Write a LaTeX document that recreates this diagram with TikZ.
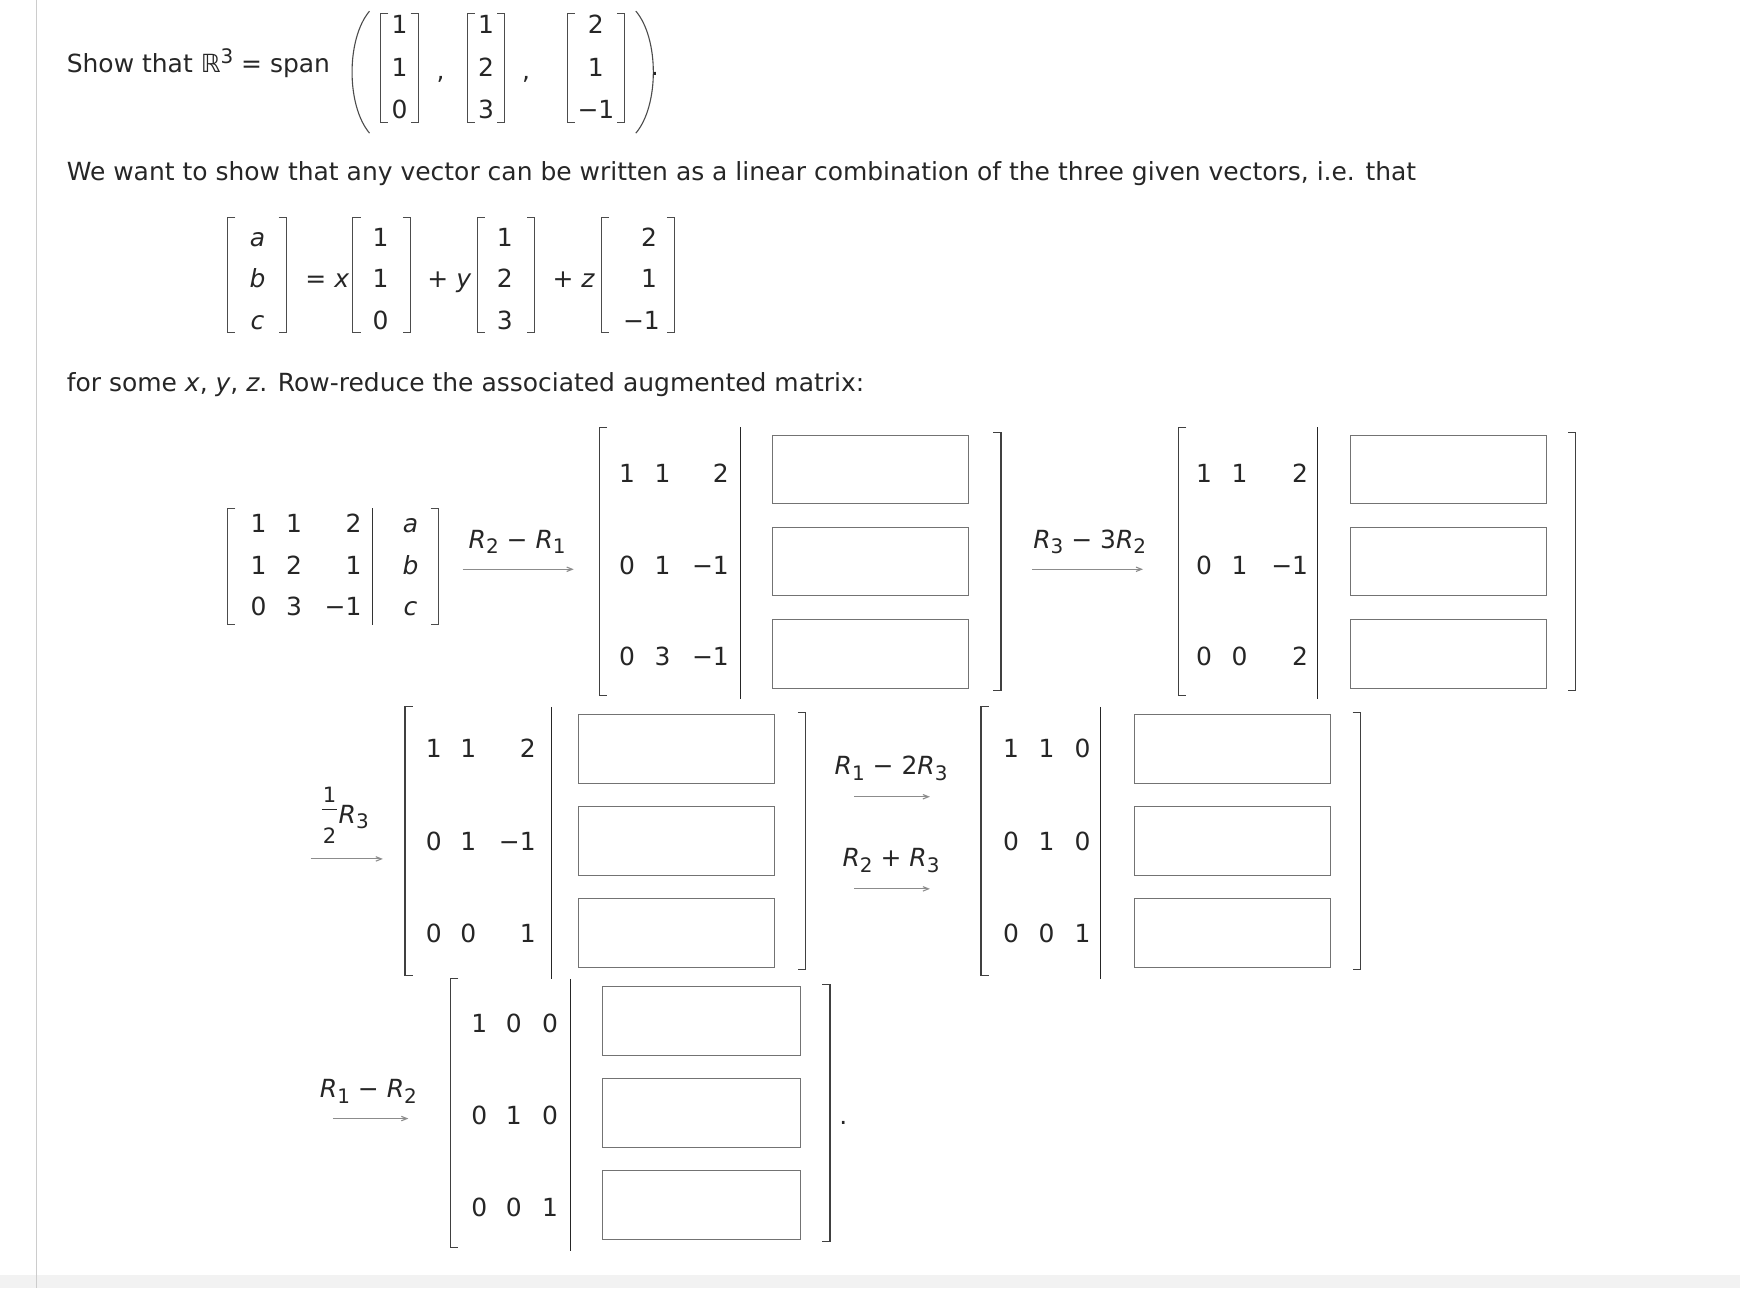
\documentclass[tikz,border=0pt]{standalone}
\usepackage{fontspec}
\setmainfont{DejaVu Sans}
\usetikzlibrary{arrows.meta}
\newcommand\sbs[1]{\raisebox{-5pt}{\fontsize{18}{18}\selectfont #1}}
\begin{document}
\begin{tikzpicture}[x=1pt,y=-1pt,font=\fontsize{22.5}{26}\selectfont,
  t/.style={inner sep=0pt,anchor=base,text=black!85},
  br/.style={draw=black!75,line width=1.1pt},
  sbr/.style={draw=black!70,line width=0.9pt},
  bx/.style={draw=black!55,line width=0.8pt},
  ar/.style={draw=black!45,line width=1pt,-{Straight Barb[length=5pt,width=4pt]}}]
\useasboundingbox (0,0) rectangle (1568,1161);
\fill[black!5] (0,1149) rectangle (1568,1161);
\draw[black!20,line width=1pt] (33,0)--(33,1161);
\newcommand\brk[5]{%
 \draw[#1] ({#2+7},#4)--(#2,#4)--(#2,#5)--({#2+7},#5);
 \draw[#1] ({#3-7},#4)--(#3,#4)--(#3,#5)--({#3-7},#5);}
% line 1
\node[t,anchor=base west] (s1) at (60,65) {Show that ℝ\raisebox{8pt}{\fontsize{18}{18}\selectfont 3} = span};
\draw[black!70,line width=1pt] (333,10) .. controls (312,35) and (312,95) .. (333,120);
\draw[black!70,line width=1pt] (573,10) .. controls (594,35) and (594,95) .. (573,120);
\brk{sbr}{343}{377}{12}{110}
\brk{sbr}{421}{455}{12}{110}
\brk{sbr}{511}{563}{12}{110}
\foreach \x/\a/\b/\c in {360/1/1/0,438/1/2/3,537/2/1/−1}{
 \node[t] at (\x,30) {\a}; \node[t] at (\x,69) {\b}; \node[t] at (\x,107) {\c};}
\node[t] at (397,72) {,};\node[t] at (474,72) {,};\node[t] at (590,68) {.};
\node[t,anchor=base west] (l2) at (60,163) {We want to show that any vector can be written as a linear combination of the three given vectors, i.e. that};
% equation
\brk{sbr}{205}{258}{196}{300}
\node[t] at (232,222) {\textit{a}};\node[t] at (232,259) {\textit{b}};\node[t] at (232,297) {\textit{c}};
\node[t] at (295,259) {= \textit{x}};
\brk{sbr}{318}{370}{196}{300}
\node[t] at (343,222) {1};\node[t] at (343,259) {1};\node[t] at (343,297) {0};
\node[t] at (405,259) {+ \textit{y}};
\brk{sbr}{430}{482}{196}{300}
\node[t] at (455,222) {1};\node[t] at (455,259) {2};\node[t] at (455,297) {3};
\node[t] at (517,259) {+ \textit{z}};
\brk{sbr}{542}{608}{196}{300}
\node[t] at (585,222) {2};\node[t] at (585,259) {1};\node[t] at (578,297) {−1};
\node[t,anchor=base west] (l3) at (60,353) {for some \textit{x}, \textit{y}, \textit{z}. Row-reduce the associated augmented matrix:};
% matrix 1
\brk{sbr}{205}{395}{458}{563}
\foreach \y/\a/\b/\c/\d in {480/1/1/2/\textit{a},518/1/2/1/\textit{b},555/0/3/−1/\textit{c}}{
 \node[t] at (233,\y) {\a};\node[t] at (265,\y) {\b};\node[t,anchor=base east] at (326,\y) {\c};\node[t] at (370,\y) {\d};}
\draw[black!80,line width=1pt] (336,458)--(336,563);
% arrow 1
\coordinate (a1s) at (417,513); \coordinate (a1e) at (517,513);
\draw[ar] (a1s)--(a1e);
\node[t] at (466,494) {\textit{R}\sbs{2} − \textit{R}\sbs{1}};
\newcommand\aug[9]{%
 \draw[br] ({#1+7},#2)--(#1,#2)--(#1,{#2+242})--({#1+7},{#2+242});
 \draw[br] ({#9-7},{#2+5})--(#9,{#2+5})--(#9,{#2+237})--({#9-7},{#2+237});
 \draw[black!85,line width=1pt] (#6,#2)--(#6,{#2+245});
 \foreach \k in {0,1,2}{\draw[bx] (#7,{#2+7+83*\k}) rectangle (#8,{#2+69+83*\k});}}
\newcommand\rows[7]{%
 \foreach \yy/\a/\b/\c in {#5,#6,#7}{
  \node[t] at (#1,\yy) {\a};\node[t] at (#2,\yy) {\b};\node[t,anchor=base east] at (#3,\yy) {\c};}}
% matrix 2
\aug{540}{385}{}{}{}{667}{696}{873}{902}
\rows{565}{597}{657}{}{435/1/1/2}{518/0/1/−1}{600/0/3/−1}
% arrow 2
\coordinate (a2s) at (930,513); \coordinate (a2e) at (1030,513);
\draw[ar] (a2s)--(a2e);
\node[t] at (982,494) {\textit{R}\sbs{3} − 3\textit{R}\sbs{2}};
% matrix 3
\aug{1062}{385}{}{}{}{1187}{1217}{1394}{1420}
\rows{1085}{1117}{1179}{}{435/1/1/2}{518/0/1/−1}{600/0/0/2}
% arrow 3
\draw[ar] (280,774)--(345,774);
\node[t] at (297,723) {\fontsize{19}{19}\selectfont 1};
\draw[black!85,line width=0.8pt] (290,729)--(304,729);
\node[t] at (297,760) {\fontsize{19}{19}\selectfont 2};
\node[t,anchor=base west] at (305,742) {\textit{R}\sbs{3}};
% matrix 4
\aug{365}{637}{}{}{}{497}{521}{698}{726}
\rows{391}{422}{483}{}{683/1/1/2}{766/0/1/−1}{849/0/0/1}
% arrows 4
\draw[ar] (770,718)--(838,718);
\node[t] at (803,698) {\textit{R}\sbs{1} − 2\textit{R}\sbs{3}};
\draw[ar] (770,801)--(838,801);
\node[t] at (803,781) {\textit{R}\sbs{2} + \textit{R}\sbs{3}};
% matrix 5
\aug{884}{637}{}{}{}{992}{1022}{1199}{1226}
\rows{911}{943}{983}{}{683/1/1/0}{766/0/1/0}{849/0/0/1}
% arrow 5
\draw[ar] (300,1008)--(368,1008);
\node[t] at (332,989) {\textit{R}\sbs{1} − \textit{R}\sbs{2}};
% matrix 6
\aug{406}{882}{}{}{}{514}{543}{721}{748}
\rows{432}{463}{503}{}{930/1/0/0}{1013/0/1/0}{1096/0/0/1}
\node[t] at (760,1013) {.};
\end{tikzpicture}
\end{document}
